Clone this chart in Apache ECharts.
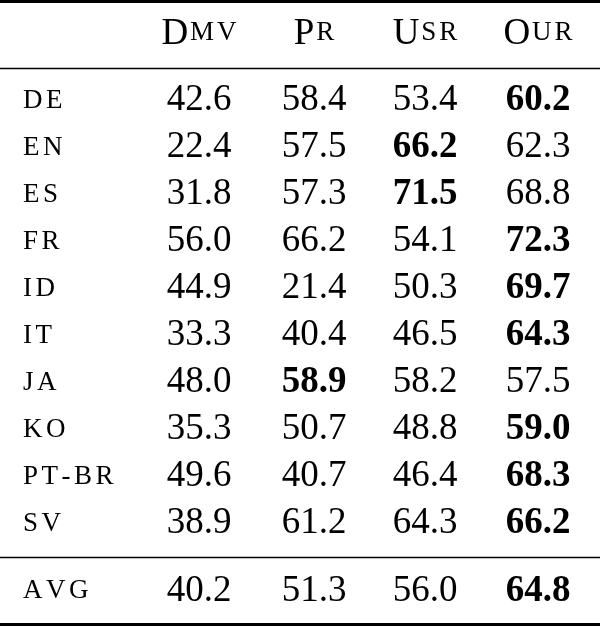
<!DOCTYPE html>
<html>
<head>
<meta charset="utf-8">
<script src="https://cdn.jsdelivr.net/npm/echarts@6/dist/echarts.min.js"></script>
<style>html,body{margin:0;padding:0;background:#fff}#c{width:600px;height:627px}</style>
</head>
<body>
<div id="c"></div>
<script>
// ---- data ----
const models = ["Dmv", "Pr", "Usr", "Our"];
const languages = ["DE", "EN", "ES", "FR", "ID", "IT", "JA", "KO", "PT-BR", "SV"];
const dmv = [42.6, 22.4, 31.8, 56.0, 44.9, 33.3, 48.0, 35.3, 49.6, 38.9];
const pr  = [58.4, 57.5, 57.3, 66.2, 21.4, 40.4, 58.9, 50.7, 40.7, 61.2];
const usr = [53.4, 66.2, 71.5, 54.1, 50.3, 46.5, 58.2, 48.8, 46.4, 64.3];
const our = [60.2, 62.3, 68.8, 72.3, 69.7, 64.3, 57.5, 59.0, 68.3, 66.2];
const avgLabel = "AVG";
const avgValues = [40.2, 51.3, 56.0, 64.8];

// ---- layout (axis units = pixels of the 600x627 canvas) ----
const COL_X = [199, 314, 425, 538];
const LABEL_X = 23;
const HEADER_Y = 34;
const ROW0_Y = 100.5;
const ROW_STEP = 47;
const AVG_Y = 591;
const RULES = [
  { y: 1.5, w: 3 },
  { y: 68.5, w: 1.3 },
  { y: 557.5, w: 1.3 },
  { y: 624.5, w: 3 }
];
const FONT = '"Liberation Serif","DejaVu Serif",serif';
const NUM_SIZE = 37;
const SC_SIZE = 27;
const SC_GAP = 3.5;

const columns = [dmv, pr, usr, our];
const rowsAll = languages.map((l, i) => ({ name: l, y: ROW0_Y + i * ROW_STEP, vals: columns.map(c => c[i]) }));
rowsAll.push({ name: avgLabel, y: AVG_Y, vals: avgValues });
const cellData = [];
rowsAll.forEach(r => {
  const mx = Math.max(...r.vals);
  r.vals.forEach((v, j) => {
    cellData.push({ value: [COL_X[j], r.y], text: v.toFixed(1), bold: v === mx });
  });
});
const rowLabelData = rowsAll.map(r => ({ value: [LABEL_X, r.y], text: r.name }));
const headerData = models.map((m, j) => ({ value: [COL_X[j], HEADER_Y], text: m }));

function spaced(str, style) {
  const chars = str.split('');
  return chars.map((c, i) => '{' + (i === chars.length - 1 ? style + 'L' : style) + '|' + c + '}').join('');
}

const chart = echarts.init(document.getElementById('c'), null, { renderer: 'canvas' });
const baseSeries = {
  type: 'scatter', symbolSize: 0, itemStyle: { opacity: 1 },
  emphasis: { disabled: true }, silent: true
};
chart.setOption({
  animation: false,
  backgroundColor: '#fff',
  grid: { left: 0, right: 0, top: 0, bottom: 0 },
  xAxis: { type: 'value', min: 0, max: 600, show: false },
  yAxis: { type: 'value', inverse: true, min: 0, max: 627, show: false },
  series: [
    Object.assign({}, baseSeries, {
      data: cellData,
      label: {
        show: true, position: 'inside', color: '#000', opacity: 1,
        formatter: p => p.data.bold ? '{b|' + p.data.text + '}' : '{n|' + p.data.text + '}',
        rich: {
          n: { fontFamily: FONT, fontSize: NUM_SIZE, color: '#000' },
          b: { fontFamily: FONT, fontSize: NUM_SIZE, fontWeight: 'bold', color: '#000' }
        }
      },
      markLine: {
        silent: true, symbol: 'none', label: { show: false }, animation: false,
        emphasis: { disabled: true },
        data: RULES.map(r => ({ yAxis: r.y, lineStyle: { color: '#000', width: r.w, type: 'solid', opacity: 1 } }))
      }
    }),
    Object.assign({}, baseSeries, {
      data: rowLabelData,
      label: {
        show: true, position: 'inside', align: 'left', opacity: 1,
        formatter: p => spaced(p.data.text, 's'),
        rich: {
          s: { fontFamily: FONT, fontSize: SC_SIZE, color: '#000', padding: [0, SC_GAP, 0, 0] },
          sL: { fontFamily: FONT, fontSize: SC_SIZE, color: '#000' }
        }
      }
    }),
    Object.assign({}, baseSeries, {
      data: headerData,
      label: {
        show: true, position: 'inside', opacity: 1,
        formatter: p => '{B|' + p.data.text[0] + '}' + spaced(p.data.text.slice(1).toUpperCase(), 'h'),
        rich: {
          B: { fontFamily: FONT, fontSize: NUM_SIZE, lineHeight: NUM_SIZE, color: '#000', padding: [0, 2, 0, 0] },
          h: { fontFamily: FONT, fontSize: SC_SIZE, lineHeight: SC_SIZE, color: '#000', padding: [0, 3, 2, 0] },
          hL: { fontFamily: FONT, fontSize: SC_SIZE, lineHeight: SC_SIZE, color: '#000', padding: [0, 0, 2, 0] }
        }
      }
    })
  ]
});
</script>
</body>
</html>
